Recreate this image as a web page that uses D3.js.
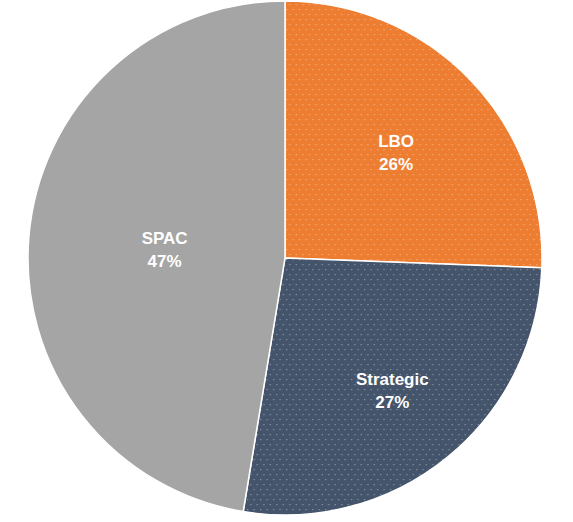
<!DOCTYPE html>
<html>
<head>
<meta charset="utf-8">
<script src="https://cdn.jsdelivr.net/npm/d3@7"></script>
<style>
  body { margin: 0; background: #fff; }
  svg { display: block; }
</style>
</head>
<body>
<div id="chart"></div>
<script>
// Deal type shares
const categories = ["LBO", "Strategic", "SPAC"];
const shares = [25.6, 27.0, 47.4];
const shareLabels = ["26%", "27%", "47%"];
const colors = ["#ED7D31", "#44546A", "#A5A5A5"];
const dotColors = ["#F6AF7C", "#8B97AE", null];

const width = 573, height = 522;
const cx = 285, cy = 258, radius = 257;
// label distance from centre as a fraction of the radius, per slice
const labelPos = [0.6, 0.66, 0.47];

const svg = d3.select("#chart")
    .append("svg")
    .attr("width", width)
    .attr("height", height);

// Dotted fill patterns
const defs = svg.append("defs");
colors.forEach((c, i) => {
    const p = defs.append("pattern")
        .attr("id", "pat" + i)
        .attr("patternUnits", "userSpaceOnUse")
        .attr("width", 6.5)
        .attr("height", 10);
    p.append("rect").attr("width", 6.5).attr("height", 10).attr("fill", c);
    if (dotColors[i]) {
        p.append("rect").attr("x", 1).attr("y", 1).attr("width", 1.2).attr("height", 1.2).attr("fill", dotColors[i]);
        p.append("rect").attr("x", 4.25).attr("y", 6).attr("width", 1.2).attr("height", 1.2).attr("fill", dotColors[i]);
    }
});

const data = categories.map((c, i) => ({ name: c, value: shares[i], label: shareLabels[i], idx: i }));

const pie = d3.pie().sort(null).value(d => d.value);
const arc = d3.arc().innerRadius(0).outerRadius(radius);

const g = svg.append("g").attr("transform", `translate(${cx},${cy})`);
const arcs = pie(data);

g.selectAll("path")
    .data(arcs)
    .join("path")
    .attr("d", arc)
    .attr("fill", d => `url(#pat${d.data.idx})`)
    .attr("stroke", "#fff")
    .attr("stroke-width", 1.5);

// Labels
arcs.forEach(d => {
    const r = radius * labelPos[d.data.idx];
    const la = d3.arc().innerRadius(r).outerRadius(r);
    const [x, y] = la.centroid(d);
    const t = g.append("text")
        .attr("x", x)
        .attr("y", y)
        .attr("text-anchor", "middle")
        .attr("fill", "#fff")
        .style("font-family", "'Liberation Sans', Arial, sans-serif")
        .style("font-weight", "bold")
        .style("font-size", "17px");
    t.append("tspan").attr("x", x).attr("dy", "-0.25em").text(d.data.name);
    t.append("tspan").attr("x", x).attr("dy", "1.35em").text(d.data.label);
});
</script>
</body>
</html>
